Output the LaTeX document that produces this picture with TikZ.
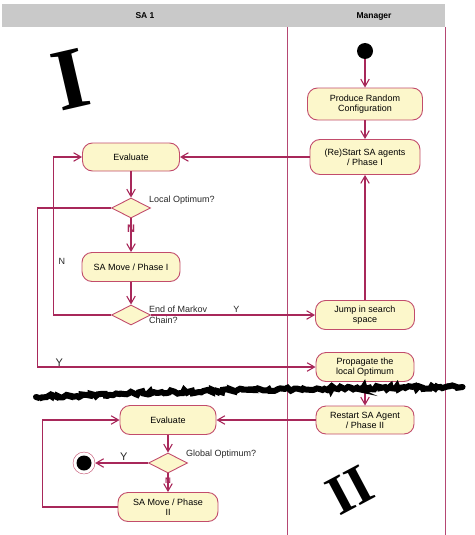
\documentclass[tikz,border=0pt]{standalone}
\usepackage{fontspec}
\setmainfont{Liberation Sans}
\newfontfamily\numfont{Liberation Serif}
\usepackage{tikz}
\usetikzlibrary{arrows.meta,positioning,shapes.geometric,calc,decorations.pathmorphing}
\definecolor{wire}{HTML}{A8285A}
\definecolor{actBg}{HTML}{FCF7CB}
\definecolor{actFr}{HTML}{C24C6C}
\definecolor{headBg}{HTML}{C9C9C9}
\tikzset{>={Straight Barb[length=2.6mm,width=3mm]},
  act/.style={draw=actFr,fill=actBg,rounded corners=10pt,align=center,
    inner sep=2pt,font=\fontsize{9}{10}\selectfont,line width=0.9pt},
  choice/.style={diamond,draw=actFr,fill=actBg,aspect=2,inner sep=0pt,
    minimum width=39pt,minimum height=20pt,line width=0.9pt},
  startdot/.style={circle,fill=black,inner sep=0pt,minimum size=16pt},
  enddot/.style={circle,draw=actFr,fill=white,inner sep=0pt,minimum size=22pt,
    path picture={\fill[black] (path picture bounding box.center) circle (7.5pt);}},
  flow/.style={->,line width=1.1pt,wire},
  lbl/.style={font=\fontsize{9}{10.5}\selectfont,text=black!85,inner sep=1pt},
  head/.style={font=\fontsize{8.5}{10}\selectfont\bfseries},
  lane/.style={line width=0.8pt,wire!85},
  numeral/.style={font=\numfont\bfseries\fontsize{88}{88}\selectfont,inner sep=0pt},
  scribble/.style={line width=6pt,line cap=round,
    decorate,decoration={random steps,segment length=2.5pt,amplitude=1.8pt}}}

\begin{document}
\begin{tikzpicture}[x=1pt,y=-1pt]
  \useasboundingbox (0,0) rectangle (474,535);
  % swimlanes
  \fill[headBg] (2,4) rectangle (445,27);
  \node[head] (sa) at (145,16) {SA 1};
  \node[head] (mgr) at (374,16) {Manager};
  \draw[lane] (287,27) -- (287,535);
  \draw[lane] (445,27) -- (445,535);
  % manager
  \node[startdot] (init) at (365,51) {};
  \node[act,minimum width=115pt,minimum height=32pt] (prod) at (365,104) {Produce Random\\Configuration};
  \node[act,minimum width=110pt,minimum height=35pt] (rs1) at (365,157) {(Re)Start SA agents\\/ Phase I};
  \node[act,minimum width=99pt,minimum height=29pt] (jump) at (365,315) {Jump in search\\space};
  \node[act,minimum width=98pt,minimum height=29pt] (prop) at (365,367) {Propagate the\\local Optimum};
  \node[act,minimum width=98pt,minimum height=28pt] (rs2) at (365,420) {Restart SA Agent\\/ Phase II};
  % SA 1, phase I
  \node[act,minimum width=97pt,minimum height=28pt] (eval1) at (131,157) {Evaluate};
  \node[choice] (locopt) at (131,208) {};
  \node[act,minimum width=98pt,minimum height=29pt] (move1) at (131,267) {SA Move / Phase I};
  \node[choice] (markov) at (131,315) {};
  \node[lbl,anchor=west] (locq) at (148,200) {Local Optimum?};
  \node[lbl,anchor=west,align=left] (markq) at (148,315) {End of Markov\\Chain?};
  % SA 1, phase II
  \node[act,minimum width=96pt,minimum height=29pt] (eval2) at (168,420) {Evaluate};
  \node[choice] (globopt) at (168,463) {};
  \node[act,minimum width=100pt,minimum height=29pt] (move2) at (168,507) {SA Move / Phase\\II};
  \node[enddot] (final) at (84,463) {};
  \node[lbl,anchor=west] (globq) at (185,454) {Global Optimum?};
  % flows
  \draw[flow] (init) -- (prod);
  \draw[flow] (prod) -- (rs1);
  \draw[flow] (rs1) -- (eval1);
  \draw[flow] (eval1) -- (locopt);
  \draw[flow] (locopt) -- node[pos=0.3,font=\fontsize{11}{11}\selectfont\bfseries]{N} (move1);
  \draw[flow] (move1) -- (markov);
  \draw[flow] (markov) -- node[lbl,pos=0.52,above=1pt]{Y} (jump);
  \draw[flow] (jump) -- (rs1);
  \draw[flow] (markov.west) -- ++(-58,0) |- node[lbl,pos=0.17,right=4pt]{N} (eval1);
  \draw[flow] (locopt.west) -- ++(-74,0) |- node[lbl,pos=0.54,above=-1pt,font=\fontsize{11}{11}\selectfont]{Y} (prop);
  \draw[flow] (prop) -- (rs2);
  \draw[flow] (rs2) -- (eval2);
  \draw[flow] (eval2) -- (globopt);
  \draw[flow] (globopt) -- node[lbl,pos=0.46,above=1pt,font=\fontsize{11}{11}\selectfont]{Y} (final);
  \draw[flow] (globopt) -- node[pos=0.4,font=\fontsize{8}{8}\selectfont\bfseries]{N} (move2);
  \draw[flow] (move2.west) -- ++(-75,0) |- (eval2);
  % hand marks
  \draw[scribble] (36,397) .. controls (150,393) and (250,388) .. (462,387);
  \node[numeral,rotate=13] (one) at (71,80) {I};
  \node[numeral,rotate=28,font=\numfont\bfseries\fontsize{56}{56}\selectfont] (two) at (350,490) {II};
\end{tikzpicture}
\end{document}
